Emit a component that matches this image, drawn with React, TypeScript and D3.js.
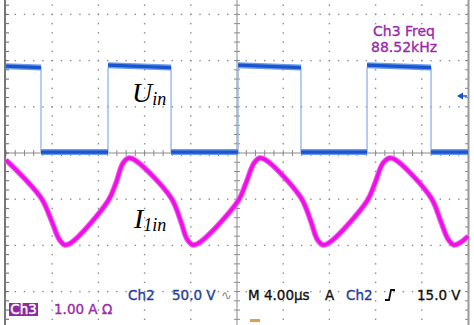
import React from "react";
import * as d3 from "d3";

// ---- data (time in µs, values in screen divisions) ----
const timeDomain = [-20, 20]; // 4 µs/div, 10 div
const divDomain = [-4, 4];

// Ch2 (U_in) switching instants, first one is a falling edge
const uEdges = [-16.97, -11.17, -5.71, 0.09, 5.54, 11.26, 16.8];
const uHighLevel = [1.9, 1.85]; // start / end of each high plateau (droop)
const uLowLevel = 0.02;

// Ch3 (I_1in) current trace
const iTime = [
  -20.0, -16.97, -16.02, -15.41, -14.89, -14.29, -11.17, -10.48, -9.87, -9.35, -8.74,
  -5.71, -4.85, -4.33, -3.81, -3.2, 0.09, 0.78, 1.47, 1.99, 2.6,
  5.54, 6.41, 6.93, 7.45, 8.05, 11.26, 11.95, 12.64, 13.25, 13.85,
  16.8, 17.66, 18.27, 18.79, 19.39, 20.0,
];
const iValue = [
  -0.15, -0.97, -1.49, -1.86, -1.99, -1.93, -1.04, -0.65, -0.22, -0.11, -0.17,
  -0.97, -1.49, -1.86, -1.99, -1.93, -1.04, -0.65, -0.22, -0.11, -0.17,
  -0.97, -1.49, -1.86, -1.99, -1.93, -1.04, -0.65, -0.22, -0.11, -0.17,
  -0.97, -1.49, -1.86, -1.99, -1.93, -1.8,
];

const freqLabel = ["Ch3 Freq", "88.52kHz"];

const W = 474;
const H = 325;

const x = d3.scaleLinear().domain(timeDomain).range([6, 468]);
const y = d3.scaleLinear().domain(divDomain).range([153 + 4 * 46.2, 153 - 4 * 46.2]);

const PURPLE = "#9a2aa6";
const BLUE_TXT = "#1f3f98";
const MONO = "'DejaVu Sans', Verdana, sans-serif";

function Grid() {
  const els: React.ReactNode[] = [];
  const xMajor = d3.range(-16, 17, 4);
  const yMajor = d3.range(-3, 4, 1);
  const xMinor = d3.range(-20, 20.001, 0.8);
  const yMinor = d3.range(-4, 4.001, 0.2);
  xMajor.forEach((t) => {
    if (t === 0) return;
    yMinor.forEach((v, j) =>
      els.push(<rect key={`vx${t}_${j}`} x={x(t) - 0.7} y={y(v) - 0.7} width={1.4} height={1.4} fill="#8a8a8a" />)
    );
  });
  yMajor.forEach((v) => {
    if (v === 0) return;
    xMinor.forEach((t, j) =>
      els.push(<rect key={`hy${v}_${j}`} x={x(t) - 0.7} y={y(v) - 0.7} width={1.4} height={1.4} fill="#8a8a8a" />)
    );
  });
  els.push(<line key="cx" x1={x(0)} x2={x(0)} y1={0} y2={H} stroke="#8a8a8a" strokeWidth={1} />);
  els.push(<line key="cy" x1={x(-20)} x2={x(20)} y1={y(0)} y2={y(0)} stroke="#8a8a8a" strokeWidth={1} />);
  yMinor.forEach((v, j) =>
    els.push(<line key={`ctv${j}`} x1={x(0) - 3} x2={x(0) + 3} y1={y(v)} y2={y(v)} stroke="#8a8a8a" strokeWidth={1} />)
  );
  xMinor.forEach((t, j) =>
    els.push(<line key={`cth${j}`} x1={x(t)} x2={x(t)} y1={y(0) - 3} y2={y(0) + 3} stroke="#8a8a8a" strokeWidth={1} />)
  );
  els.push(<line key="bl" x1={x(-20) - 1} x2={x(-20) - 1} y1={0} y2={H} stroke="#555" strokeWidth={1.6} />);
  els.push(<line key="br" x1={x(20) + 0.5} x2={x(20) + 0.5} y1={0} y2={H} stroke="#9a9a9a" strokeWidth={2} />);
  yMinor.forEach((v, j) => {
    els.push(<line key={`tl${j}`} x1={x(-20)} x2={x(-20) + 3} y1={y(v)} y2={y(v)} stroke="#666" strokeWidth={1} />);
    els.push(<line key={`tr${j}`} x1={x(20) - 3} x2={x(20)} y1={y(v)} y2={y(v)} stroke="#888" strokeWidth={1} />);
  });
  return <g>{els}</g>;
}

function Ch2Trace() {
  const bounds = [timeDomain[0], ...uEdges, timeDomain[1]];
  const plateaus: React.ReactNode[] = [];
  const edges: React.ReactNode[] = [];
  for (let i = 0; i < bounds.length - 1; i++) {
    const high = i % 2 === 0;
    const t0 = bounds[i];
    const t1 = bounds[i + 1];
    let d: string;
    if (high) {
      const v0 = i > 0 ? uHighLevel[0] : uHighLevel[0] - 0.02;
      d = `M${x(t0)},${y(v0)}L${x(t1)},${y(uHighLevel[1])}`;
    } else {
      d = `M${x(t0)},${y(uLowLevel)}L${x(t1)},${y(uLowLevel)}`;
    }
    plateaus.push(
      <g key={`p${i}`}>
        <path d={d} stroke="#6c9bec" strokeWidth={6} fill="none" />
        <path d={d} stroke="#1a55d0" strokeWidth={3.2} fill="none" />
      </g>
    );
  }
  uEdges.forEach((t, i) => {
    edges.push(
      <line key={`e${i}`} x1={x(t)} x2={x(t)} y1={y(uHighLevel[1])} y2={y(uLowLevel)} stroke="#8fb2ef" strokeWidth={1.3} />
    );
  });
  return (
    <g>
      {edges}
      {plateaus}
    </g>
  );
}

function Ch3Trace() {
  const pts: [number, number][] = iTime.map((t, i) => [t, iValue[i]]);
  const line = d3
    .line<[number, number]>()
    .x((d) => x(d[0]))
    .y((d) => y(d[1]))
    .curve(d3.curveCatmullRom.alpha(0.5));
  const d = line(pts) || "";
  return (
    <g>
      <path d={d} stroke="#f25cf0" strokeWidth={5.5} fill="none" strokeLinejoin="round" />
      <path d={d} stroke="#ee10e6" strokeWidth={3.5} fill="none" strokeLinejoin="round" />
    </g>
  );
}

const txt = (fill: string) => ({ fill, stroke: fill, strokeWidth: 0.35 });

export default function App() {
  return (
    <svg
      width={W}
      height={H}
      viewBox={`0 0 ${W} ${H}`}
      style={{ position: "fixed", left: 0, top: 0, background: "#fff" }}
    >
      <rect x={0} y={0} width={W} height={H} fill="#fff" />
      <Grid />
      <Ch2Trace />
      <Ch3Trace />

      {/* trigger level arrow */}
      <path d="M457,96 L463,92.5 L463,99.5 Z" fill="#1a4fcc" />
      <line x1={462} x2={467} y1={96} y2={96} stroke="#1a4fcc" strokeWidth={1.5} />

      {/* frequency readout */}
      <text x={404} y={36} textAnchor="middle" fontFamily={MONO} fontSize={14} {...txt(PURPLE)}>
        {freqLabel[0]}
      </text>
      <text x={404} y={52} textAnchor="middle" fontFamily={MONO} fontSize={14} {...txt(PURPLE)}>
        {freqLabel[1]}
      </text>

      {/* signal names */}
      <text x={132} y={102} fontFamily="'Liberation Serif', 'Times New Roman', serif" fontStyle="italic" fontSize={28} fill="#000">
        U
        <tspan fontSize={18} dy={3}>in</tspan>
      </text>
      <text x={134} y={228} fontFamily="'Liberation Serif', 'Times New Roman', serif" fontStyle="italic" fontSize={28} fill="#000">
        I
        <tspan fontSize={18} dy={3}>1in</tspan>
      </text>

      {/* bottom readouts */}
      <rect x={9} y={303} width={29} height={13} fill="#8f2a9c" />
      <text x={23.5} y={314} textAnchor="middle" fontFamily={MONO} fontSize={13.5} {...txt("#fff")}>
        Ch3
      </text>
      <text x={54} y={314} fontFamily={MONO} fontSize={13.5} {...txt(PURPLE)} xmlSpace="preserve">
        1.00 A Ω
      </text>
      <text x={128} y={300} fontFamily={MONO} fontSize={13.5} {...txt(BLUE_TXT)}>
        Ch2
      </text>
      <text x={172} y={300} fontFamily={MONO} fontSize={13.5} {...txt(BLUE_TXT)}>
        50.0 V
      </text>
      <text x={221} y={300} fontFamily={MONO} fontSize={13} fill="#8a8a8a">
        ∿
      </text>
      <text x={248} y={300} fontFamily={MONO} fontSize={13.5} {...txt("#111")}>
        M 4.00µs
      </text>
      <text x={325} y={300} fontFamily={MONO} fontSize={13.5} {...txt("#111")}>
        A
      </text>
      <text x={346} y={300} fontFamily={MONO} fontSize={13.5} {...txt(BLUE_TXT)}>
        Ch2
      </text>
      <path d="M385,300 L389,300 L391,290 L395,290" stroke="#111" strokeWidth={1.8} fill="none" />
      <text x={417} y={300} fontFamily={MONO} fontSize={13.5} {...txt("#111")}>
        15.0 V
      </text>
      <rect x={250} y={319} width={10} height={3} fill="#e0a050" />
    </svg>
  );
}
